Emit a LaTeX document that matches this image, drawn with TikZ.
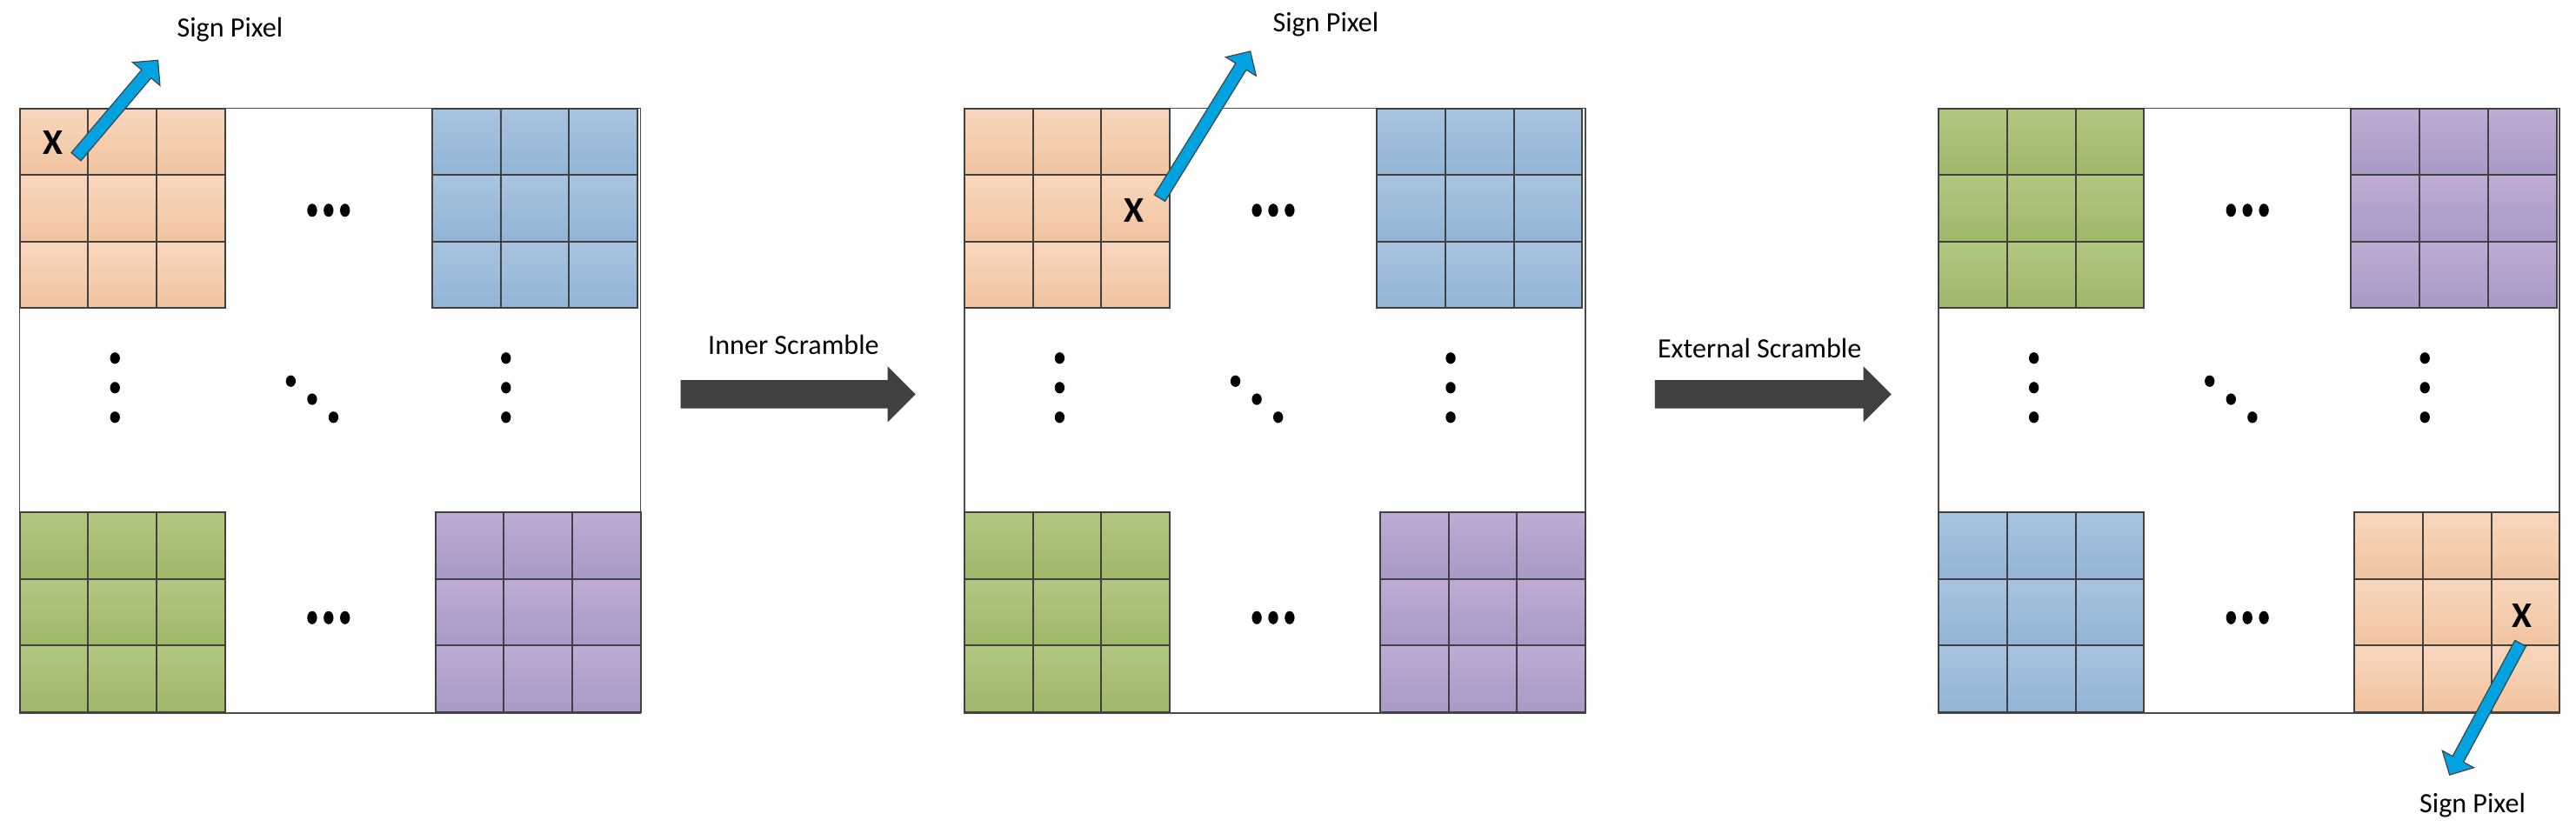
\documentclass[tikz,border=0pt]{standalone}
\usepackage{fontspec}
\setmainfont{Carlito}
\usetikzlibrary{shapes.arrows}
\definecolor{orT}{RGB}{248,214,188}\definecolor{orB}{RGB}{242,196,160}
\definecolor{blT}{RGB}{168,196,224}\definecolor{blB}{RGB}{146,180,214}
\definecolor{grT}{RGB}{176,200,128}\definecolor{grB}{RGB}{158,184,106}
\definecolor{puT}{RGB}{190,172,212}\definecolor{puB}{RGB}{170,152,198}
\definecolor{sky}{RGB}{0,162,224}
\tikzset{
 cell/.style={draw=black!75,line width=1.1pt},
 frame/.style={draw=black!70,line width=0.8pt},
 bigarrow/.style={single arrow,fill=black!75,draw=none,inner sep=7pt,minimum width=34pt,single arrow tip angle=90,single arrow head indent=0pt},
 signarrow/.style={single arrow,fill=sky,draw=black!75,line width=0.6pt,inner sep=3.5pt,minimum width=17pt,single arrow tip angle=90},
 lab/.style={font=\fontsize{17}{19}\selectfont},
 xl/.style={font=\bfseries\fontsize{22}{24}\selectfont}
}
\newcommand{\myblock}[4]{% x y topcolor bottomcolor
 \foreach \i in {0,1,2}{\foreach \j in {0,1,2}{
  \path[cell,top color=#3,bottom color=#4] ({#1+\i*41.7},{#2+\j*40.5}) rectangle ++(41.7,40.5);}}}
\newcommand{\mypanel}[5]{%
 \begin{scope}[shift={(#1,0)}]
 \draw[frame] (12,66) rectangle (390,434);
 \myblock{12}{66}{#2T}{#2B}
 \myblock{263}{66}{#3T}{#3B}
 \myblock{12}{312}{#4T}{#4B}
 \myblock{265}{312}{#5T}{#5B}
 \foreach \x in {-10,0,10}{\fill (200+\x,128) ellipse (3 and 4); \fill (200+\x,376) ellipse (3 and 4);}
 \foreach \y in {-18,0,18}{\fill (70,236+\y) ellipse (3 and 3.5); \fill (308,236+\y) ellipse (3 and 3.5);}
 \foreach \t in {-1,0,1}{\fill (190+13*\t,243+11*\t) ellipse (3 and 3.5);}
 \end{scope}}
\begin{document}
\begin{tikzpicture}[x=1pt,y=-1pt]
\useasboundingbox (0,0) rectangle (1568,503);
\mypanel{0}{or}{bl}{gr}{pu}
\mypanel{575}{or}{bl}{gr}{pu}
\mypanel{1168}{gr}{pu}{bl}{or}
\node[bigarrow,minimum height=143pt] (a1) at (481.5,240) {};
\node[lab] (l1) at (483,210) {Inner Scramble};
\node[bigarrow,minimum height=144pt] (a2) at (1075,240) {};
\node[lab] (l2) at (1071,212) {External Scramble};
\node[xl] (x1) at (32,87) {X};
\node[signarrow,rotate=49.7,minimum height=77pt] (s1) at (70,67.5) {};
\node[lab] (p1) at (140,18) {Sign Pixel};
\node[xl] (x2) at (690,128) {X};
\node[signarrow,rotate=58.3,minimum height=105pt] (s2) at (732.5,77.5) {};
\node[lab] (p2) at (807,15) {Sign Pixel};
\node[xl] (x3) at (1535,375) {X};
\node[signarrow,rotate=241.7,minimum height=91pt] (s3) at (1513.5,430) {};
\node[lab] (p3) at (1505,490) {Sign Pixel};
\end{tikzpicture}
\end{document}
